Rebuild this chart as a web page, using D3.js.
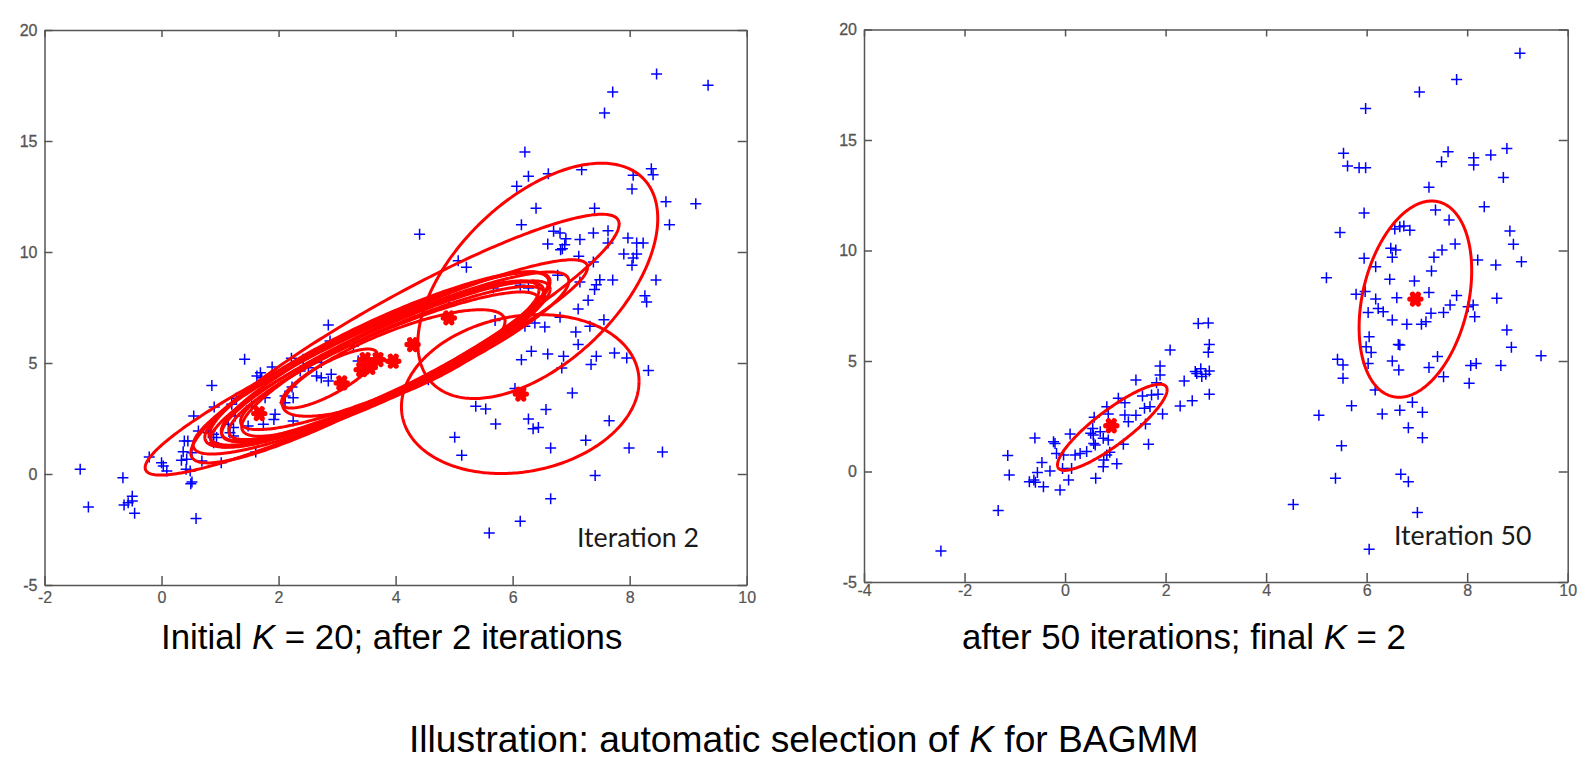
<![CDATA[<html>
<head>
<meta charset="utf-8">
<style>
    html, body { margin: 0; background: #fff; }
    svg { display: block; }
    text { font-family: "Liberation Sans", Arial, sans-serif; }
    .tick line, .domain { stroke: #555; stroke-width: 1.5; }
    .tick text { fill: #555; font-size: 16px; stroke: #555; stroke-width: .3; }
    .xaxis .tick text { font-family: "Liberation Sans Narrow", "Liberation Sans", sans-serif; font-size: 16px; stroke-width: .2; }
    .points path { fill: none; stroke: #0000ff; stroke-width: 1.5; }
    .ellipses path { fill: none; stroke: #ff0000; stroke-width: 3; }
    .centres path { fill: none; stroke: #ff0000; stroke-width: 5.4; stroke-linecap: round; }
    .iter { font-family: Lato, sans-serif; fill: #1a1a1a; }
    .caption { fill: #000; }
</style>
</head>
<body>
<svg width="1588" height="772"></svg>
<script src="https://d3js.org/d3.v7.min.js"></script>
<script>
const xTicksLeft = [-2, 0, 2, 4, 6, 8, 10]
const xTicksRight = [-4, -2, 0, 2, 4, 6, 8, 10]
const yTicks = [-5, 0, 5, 10, 15, 20]

// scatter points, [x, y], read off the picture
const leftPoints = [
    [-1.39,.21],[-1.25,-1.49],[-.66,-.17],[-.64,-1.4],[-.57,-1.29],[-.5,-1.22],[-.5,-1],[-.46,-1.77],[-.21,.77],[0,.51],
    [.03,.36],[.09,.14],[.45,1.49],[.39,1.49],[.37,1],[.52,.96],[.34,.62],[.43,.66],[.42,.21],[.49,.14],
    [.52,-.36],[.5,-.44],[.59,-2],[.69,.59],[1.02,.51],[.55,2.61],[.86,3.99],[.9,3.02],[.83,1.94],[.89,1.79],
    [.94,1.64],[.89,1.41],[.8,1.86],[.63,1.94],[1.42,5.17],[1.28,3.41],[1.2,3.14],[1.26,2.61],[1.14,2.24],[1.23,2.09],
    [1.17,1.86],[1.23,1.71],[1.48,2.16],[1.54,3.06],[1.63,4.41],[1.69,4.56],[1.71,4.34],[1.89,4.82],[1.77,3.44],[1.94,2.69],
    [1.92,2.46],[1.74,2.24],[1.61,.99],[2.22,5.21],[2.42,5.17],[2.23,3.92],[2.25,3.44],[2.11,3.51],[2.11,3.21],[2.25,2.39],
    [2.37,4.64],[2.51,4.79],[2.65,4.41],[2.73,5.02],[2.73,4.34],[2.85,4.19],[2.9,4.49],[2.85,6.71],[2.88,5.99],[3.28,5.77],
    [3.36,5.09],[8.46,18.02],[9.34,17.51],[7.71,17.21],[7.57,16.26],[6.21,14.51],[6.27,13.41],[6.07,12.96],[6.61,13.52],[7.18,13.71],
    [8.06,13.46],[8.37,13.75],[8.4,13.48],[8.04,12.84],[8.62,12.26],[9.13,12.17],[8.68,11.23],[6.4,11.97],[7.4,11.97],[6.15,11.23],
    [4.41,10.8],[6.7,10.93],[6.81,10.86],[6.91,10.6],[6.6,10.36],[6.89,10.33],[6.85,10.15],[6.82,10.1],[7.15,10.56],[7.38,10.86],
    [7.63,10.96],[7.63,10.41],[7.97,10.63],[8.12,10.41],[8.23,10.41],[7.9,9.91],[8.12,9.91],[8.06,9.73],[8.04,9.4],[7.13,9.81],
    [7.38,9.55],[5.07,9.61],[5.21,9.31],[6.77,8.95],[7.15,8.65],[7.49,8.75],[7.71,8.74],[8.45,8.74],[7.43,8.53],[7.4,8.31],
    [8.26,8.03],[8.29,7.75],[7.29,7.83],[7.12,7.43],[6.13,8.5],[6.27,8.38],[6.52,8],[5.67,8.38],[4.91,7.85],[7.56,6.95],
    [7.32,6.65],[7.08,6.4],[7.12,5.83],[5.7,6.91],[5.88,6.46],[6.21,6.65],[6.38,6.8],[6.55,6.62],[6.81,7.06],[6.15,5.15],
    [6.32,5.53],[6.6,5.41],[6.87,5.3],[6.84,4.78],[7.43,5.3],[7.34,4.93],[7.74,5.45],[7.95,5.23],[8.32,4.66],[7.02,3.65],
    [5.37,3.05],[5.54,2.93],[5.71,2.25],[6.57,2.9],[6.27,2.48],[6.35,2.04],[6.44,2.1],[5.01,1.65],[5.13,.84],[6.65,1.17],
    [7.25,1.52],[7.65,2.4],[7.99,1.17],[8.56,.99],[7.41,-.07],[6.65,-1.11],[6.13,-2.13],[5.6,-2.66],[4.56,4.25],[6.04,3.85]
]

const rightPoints = [
    [-2.47,-3.6],[-1.33,-1.77],[-1.14,.72],[-1.11,-.16],[-.6,1.52],[-.23,1.35],[-.2,1.27],[-.46,.41],[-.17,.82],[-.3,.02],
    [-.55,-.05],[-.71,-.46],[-.62,-.38],[-.59,-.49],[-.43,-.69],[-.1,-.84],[.07,-.38],[-.05,.14],[.13,.14],[-.03,.75],
    [.1,1.7],[.3,.82],[.2,.75],[.43,.9],[.57,1.27],[.56,1.65],[.6,1.2],[.51,1.73],[.58,2.45],[.55,1.95],
    [.7,1.8],[.76,1.5],[.86,1.42],[.83,.75],[.77,.52],[.89,.87],[.76,.22],[1.03,.35],[.61,-.31],[1.16,1.23],
    [1.66,1.23],[.83,2.93],[.86,2.6],[1.06,3.31],[1.19,3.11],[1.19,2.56],[1.26,2.25],[1.41,2.54],[1.6,2.15],[1.58,2.86],
    [1.69,2.93],[1.54,3.42],[1.72,3.46],[1.85,3.5],[1.94,2.6],[1.41,4.14],[1.82,4.02],[1.89,4.37],[1.89,4.77],[2.09,5.5],
    [2.37,4.09],[2.29,2.96],[2.53,3.2],[2.59,4.52],[2.65,6.7],[2.62,4.44],[2.85,6.72],[2.87,5.75],[2.85,5.4],[2.87,4.55],
    [2.7,4.65],[2.8,4.4],[2.87,3.5],[2.72,4.3],
    [9.05,18.92],[7.79,17.74],[7.05,17.17],[5.98,16.43],[5.54,14.4],[5.62,13.82],[5.85,13.75],[5.98,13.75],[7.62,14.47],[7.49,14.02],
    [8.13,14.2],[8.13,13.87],[8.47,14.32],[8.79,14.62],[8.72,13.3],[7.24,12.86],[8.34,11.98],[7.37,11.83],[5.95,11.7],[5.47,10.82],
    [7.64,11.38],[6.56,10.97],[6.66,11.08],[6.74,11.11],[6.86,10.92],[8.85,10.88],[8.92,10.28],[9.08,9.49],[8.57,9.34],[8.21,9.57],
    [7.76,10.29],[7.5,10.02],[7.34,9.69],[6.48,10.1],[6.58,10.02],[6.51,9.69],[5.95,9.65],[6.18,9.27],[5.2,8.77],[6.46,8.7],
    [7.29,9.07],[6.95,8.62],[5.79,8.02],[5.97,8.14],[6.18,7.8],[6.6,7.86],[7.24,8.1],[7.79,7.96],[8.59,7.84],[6.03,7.19],
    [6.23,7.38],[6.33,7.23],[6.51,6.86],[6.8,6.66],[7.09,6.66],[7.18,6.78],[7.28,7.16],[7.53,7.2],[7.66,7.53],[8.02,7.46],
    [8.12,7.53],[8.15,7],[8.79,6.4],[8.88,5.62],[9.47,5.24],[8.67,4.8],[8.18,4.89],[8.07,4.8],[8.04,3.99],[6.05,6.1],
    [5.99,5.65],[6.09,5.39],[6.66,5.72],[6.63,5.75],[6.51,5],[6.64,4.59],[6.03,4.89],[5.42,5.08],[5.53,4.82],[5.53,4.22],
    [7.41,5.2],[7.24,4.71],[7.53,4.29],[6.17,3.69],[5.7,2.98],[5.05,2.54],[6.31,2.6],[6.66,2.77],[6.91,3.13],[7.11,2.68],
    [6.83,1.98],[7.11,1.53],[5.5,1.17],[5.38,-.31],[6.68,-.13],[6.83,-.46],[4.54,-1.49],[7.01,-1.85],[6.05,-3.52]
]

// component means
const leftCentres = [[1.67,2.72],[3.08,4.1],[3.42,4.7],[3.56,4.8],[3.48,5.15],[3.7,5.15],[3.96,5.08],[4.29,5.83],[4.91,7.03],[6.14,3.6]]
const rightCentres = [[.92,2.07],[6.97,7.8]]

// components as [mean x, mean y, half width, half height, correlation]
const leftEllipses = [
    [6.43,8.7,2.05,5.3,.53],
    [6.13,3.6,2.03,3.58,.16],
    [4.16,6.1,3.66,5.6,.92],
    [3.5,4.8,3.78,4.85,.93],
    [3.75,5,3.21,4.1,.9],
    [3.69,5.16,2.95,3.94,.89],
    [3.72,5.2,2.9,3.9,.88],
    [3.82,5.3,2.8,3.8,.89],
    [3.78,5.05,2.75,3.6,.89],
    [3.74,4.95,2.9,3.75,.9],
    [3.85,5,2.7,3.45,.89],
    [3.9,5.1,2.55,3.1,.88],
    [3.91,5.2,2.54,3.5,.88],
    [3.97,5,1.9,2.4,.78],
    [2.87,4.3,.82,1.33,.8]
]
const rightEllipses = [
    [.94,2,1.09,1.95,.87],
    [6.97,7.8,1.12,4.44,.29]
]

const svg = d3.select("svg")

function ellipsePoints(e) {
    let angles = d3.range(0, 2 * Math.PI + .02, .02)
    return angles.map(t => [
        e[0] + e[2] * Math.cos(t),
        e[1] + e[3] * (e[4] * Math.cos(t) + Math.sqrt(1 - e[4] * e[4]) * Math.sin(t))
    ])
}

function drawPanel(p) {
    let x = d3.scaleLinear().domain(p.xDomain).range([p.left, p.right])
    let y = d3.scaleLinear().domain([-5, 20]).range([p.bottom, p.top])
    let g = svg.append("g")

    // frame with ticks pointing inwards on all four sides
    let bottom = d3.axisBottom(x).tickValues(p.xTicks).tickSizeInner(-9).tickSizeOuter(0).tickPadding(p.xPad).tickFormat(d => d)
    let top = d3.axisTop(x).tickValues(p.xTicks).tickSizeInner(-7).tickSizeOuter(0)
    let left = d3.axisLeft(y).tickValues(yTicks).tickSizeInner(-8).tickSizeOuter(0).tickPadding(7).tickFormat(d => d)
    let right = d3.axisRight(y).tickValues(yTicks).tickSizeInner(-9).tickSizeOuter(0)

    g.append("g").attr("class", "xaxis").attr("transform", `translate(0,${p.bottom})`).call(bottom)
    g.append("g").attr("transform", `translate(0,${p.top})`).call(top).selectAll("text").remove()
    g.append("g").attr("transform", `translate(${p.left},0)`).call(left)
    g.append("g").attr("transform", `translate(${p.right},0)`).call(right).selectAll("text").remove()

    g.append("g").attr("class", "points")
        .selectAll("path").data(p.points).join("path")
        .attr("d", "M-5.5,0H5.5M0,-5.5V5.5")
        .attr("transform", d => `translate(${x(d[0])},${y(d[1])})`)

    let line = d3.line().x(d => x(d[0])).y(d => y(d[1]))
    g.append("g").attr("class", "ellipses")
        .selectAll("path").data(p.ellipses).join("path")
        .attr("d", d => line(ellipsePoints(d)))

    g.append("g").attr("class", "centres")
        .selectAll("path").data(p.centres).join("path")
        .attr("d", "M-5.5,0H5.5M-2.8,-4.8L2.8,4.8M-2.8,4.8L2.8,-4.8")
        .attr("transform", d => `translate(${x(d[0])},${y(d[1])})`)
}

drawPanel({
    xDomain: [-2, 10], xTicks: xTicksLeft, xPad: 7,
    left: 44.5, right: 746.7, top: 30, bottom: 585,
    points: leftPoints, ellipses: leftEllipses, centres: leftCentres
})
drawPanel({
    xDomain: [-4, 10], xTicks: xTicksRight, xPad: 3,
    left: 864, right: 1567.7, top: 29.5, bottom: 582,
    points: rightPoints, ellipses: rightEllipses, centres: rightCentres
})

svg.append("text").attr("class", "iter").attr("x", 577).attr("y", 547).attr("font-size", 26.7).text("Iteration 2")
svg.append("text").attr("class", "iter").attr("x", 1394).attr("y", 545).attr("font-size", 26.7).text("Iteration 50")

function caption(x, y, size, parts) {
    let t = svg.append("text").attr("class", "caption").attr("x", x).attr("y", y).attr("font-size", size)
    parts.forEach(s => {
        t.append("tspan").attr("font-style", s == "K" ? "italic" : "normal").text(s)
    })
}
caption(161, 649, 34.8, ["Initial ", "K", " = 20; after 2 iterations"])
caption(962, 649, 34.8, ["after 50 iterations; final ", "K", " = 2"])
caption(409, 752, 37.2, ["Illustration: automatic selection of ", "K", " for BAGMM"])
</script>
</body>
</html>
]]>
